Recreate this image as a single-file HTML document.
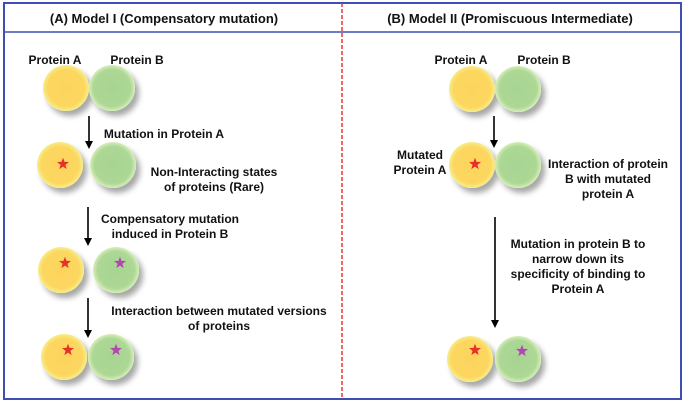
<!DOCTYPE html>
<html><head><meta charset="utf-8"><style>
body{margin:0;width:685px;height:404px;background:#fff;overflow:hidden;font-family:"Liberation Sans",Arial,sans-serif;}
</style></head><body>
<svg width="685" height="404" viewBox="0 0 685 404" xmlns="http://www.w3.org/2000/svg">
<defs>
<radialGradient id="ya" cx="0.5" cy="0.5" r="0.5"><stop offset="0" stop-color="#fcd45c"/><stop offset="0.8" stop-color="#fcd760"/><stop offset="1" stop-color="#f6ee8a"/></radialGradient>
<radialGradient id="gb" cx="0.5" cy="0.5" r="0.5"><stop offset="0" stop-color="#a8d493"/><stop offset="0.8" stop-color="#acd795"/><stop offset="1" stop-color="#d6eeb8"/></radialGradient>
<filter id="sh" x="-30%" y="-30%" width="170%" height="170%"><feGaussianBlur in="SourceAlpha" stdDeviation="3"/><feOffset dx="4" dy="5"/><feComponentTransfer><feFuncA type="linear" slope="0.35"/></feComponentTransfer><feMerge><feMergeNode/><feMergeNode in="SourceGraphic"/></feMerge></filter>
<marker id="ar" markerWidth="8" markerHeight="8" refX="4" refY="7" orient="auto" markerUnits="userSpaceOnUse"><path d="M0,1 L8,1 L4,8 z" fill="#000" transform="rotate(-90 4 4)"/></marker>
<symbol id="star" viewBox="-10 -10 20 20"><polygon points="0,-9 2.2,-3 8.6,-2.8 3.5,1.2 5.3,7.3 0,3.7 -5.3,7.3 -3.5,1.2 -8.6,-2.8 -2.2,-3" /></symbol>
</defs>
<rect x="4" y="3" width="677" height="396" fill="none" stroke="#3d4fb3" stroke-width="2"/>
<line x1="4" y1="32" x2="681" y2="32" stroke="#3d4fb3" stroke-width="1.5"/>
<line x1="342" y1="3" x2="342" y2="399" stroke="#e33" stroke-width="1.5" stroke-dasharray="4,2"/>
<g font-weight="bold" font-size="13" fill="#111" text-anchor="middle">
<text x="164" y="23">(A) Model I (Compensatory mutation)</text>
<text x="510" y="23">(B) Model II (Promiscuous Intermediate)</text>
</g>
<g filter="url(#sh)">
<circle cx="66" cy="88" r="23" fill="url(#ya)"/><circle cx="112" cy="88" r="23" fill="url(#gb)"/>
<circle cx="60" cy="165" r="23" fill="url(#ya)"/><circle cx="113" cy="165" r="23" fill="url(#gb)"/>
<circle cx="61" cy="270" r="23" fill="url(#ya)"/><circle cx="116" cy="270" r="23" fill="url(#gb)"/>
<circle cx="64" cy="357" r="23" fill="url(#ya)"/><circle cx="111" cy="357" r="23" fill="url(#gb)"/>
<circle cx="472" cy="89" r="23" fill="url(#ya)"/><circle cx="518" cy="89" r="23" fill="url(#gb)"/>
<circle cx="472" cy="165" r="23" fill="url(#ya)"/><circle cx="518" cy="165" r="23" fill="url(#gb)"/>
<circle cx="470" cy="359" r="23" fill="url(#ya)"/><circle cx="518" cy="359" r="23" fill="url(#gb)"/>
</g>
<g fill="#e8302a">
<use href="#star" x="56" y="157" width="14" height="14"/>
<use href="#star" x="58" y="256" width="14" height="14"/>
<use href="#star" x="61" y="343" width="14" height="14"/>
<use href="#star" x="468" y="157" width="14" height="14"/>
<use href="#star" x="468" y="143" width="0" height="0"/>
<use href="#star" x="468" y="343" width="14" height="14"/>
</g>
<g fill="#b545b5">
<use href="#star" x="113" y="256" width="14" height="14"/>
<use href="#star" x="109" y="343" width="14" height="14"/>
<use href="#star" x="515" y="344" width="14" height="14"/>
</g>
<g stroke="#000" stroke-width="1.6">
<line x1="89" y1="116" x2="89" y2="142"/><line x1="88" y1="207" x2="88" y2="239"/><line x1="88" y1="298" x2="88" y2="331"/>
<line x1="494" y1="116" x2="494" y2="141"/><line x1="495" y1="217" x2="495" y2="321"/>
</g>
<g fill="#000">
<path d="M85,141 L93,141 L89,149 z"/><path d="M84,238 L92,238 L88,246 z"/><path d="M84,330 L92,330 L88,338 z"/>
<path d="M490,140 L498,140 L494,148 z"/><path d="M491,320 L499,320 L495,328 z"/>
</g>
<g font-weight="bold" font-size="12" fill="#111" text-anchor="middle">
<text x="55" y="64">Protein A</text><text x="137" y="64">Protein B</text>
<text x="164" y="138">Mutation in Protein A</text>
<text x="214" y="176">Non-Interacting states</text><text x="214" y="191">of proteins (Rare)</text>
<text x="170" y="223">Compensatory mutation</text><text x="170" y="238">induced in Protein B</text>
<text x="219" y="315">Interaction between mutated versions</text><text x="219" y="330">of proteins</text>
<text x="461" y="64">Protein A</text><text x="544" y="64">Protein B</text>
<text x="420" y="159">Mutated</text><text x="420" y="174">Protein A</text>
<text x="608" y="168">Interaction of protein</text><text x="608" y="183">B with mutated</text><text x="608" y="198">protein A</text>
<text x="578" y="248">Mutation in protein B to</text><text x="578" y="263">narrow down its</text><text x="578" y="278">specificity of binding to</text><text x="578" y="293">Protein A</text>
</g>
</svg>
</body></html>
